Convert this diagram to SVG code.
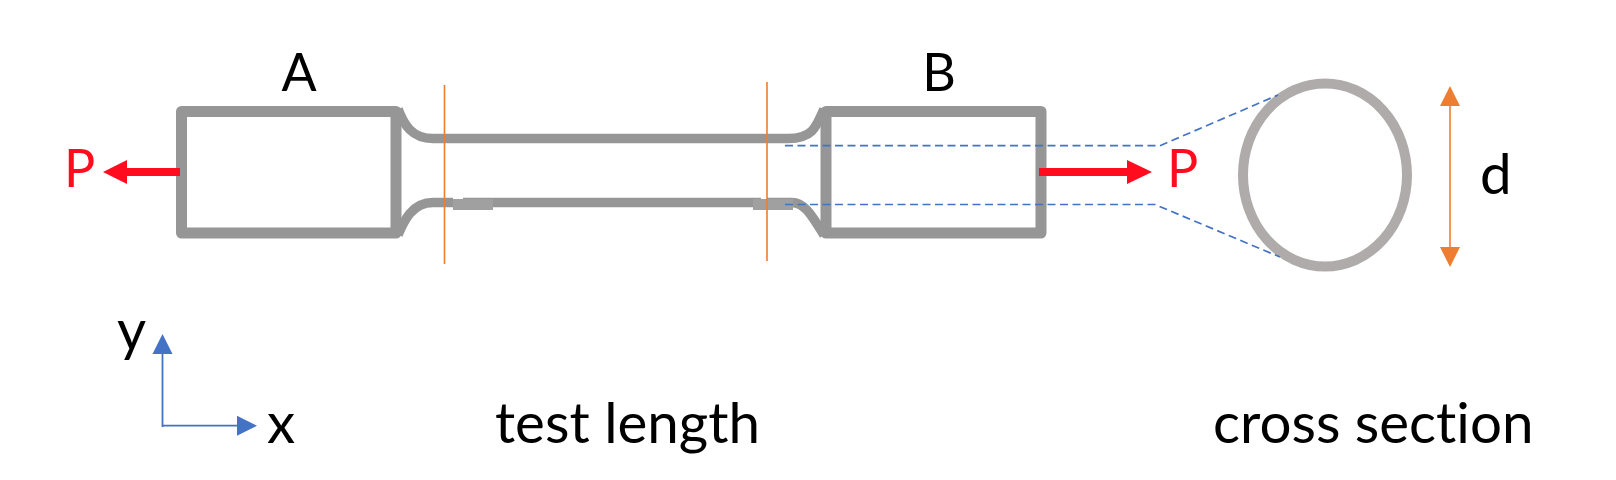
<svg xmlns="http://www.w3.org/2000/svg" width="1616" height="480" viewBox="0 0 1616 480">
<style>
text{font-family:"Lato","Carlito","Liberation Sans",sans-serif;font-size:52px;fill:#000;font-variant-ligatures:none}
.big{font-size:56.500px}
.red{fill:#FF0D1E}
.body{fill:none;stroke:#969696;stroke-width:11;stroke-linejoin:round;stroke-linecap:round}
.neck{fill:none;stroke:#969696;stroke-width:9.500}
.dash{fill:none;stroke:#4472C4;stroke-width:1.700;stroke-dasharray:8 4.500}
.or{stroke:#ED7D31;stroke-width:1.600;fill:none}
.bl{stroke:#4472C4;stroke-width:1.800;fill:none}
</style>
<rect width="1616" height="480" fill="#fff"/>
<g id="specimen">
<path class="body" d="M181.500 111.500H396V233H181.500Z"/>
<path class="body" d="M826 111.500H1041V233H826Z"/>
<path class="neck" d="M398 109C404 125 412 138.500 433 138.500H788C812 138.500 816 128 824 109"/>
<path class="neck" d="M398 235C404 221 412 202.500 433 202.500H792C806 202.500 814 220 824 235"/>
<rect x="453" y="199" width="40" height="11" fill="#A0A0A0"/>
<rect x="753" y="199" width="40" height="11" fill="#A0A0A0"/>
<rect x="453" y="196" width="10" height="3" fill="#fff"/>
<rect x="761" y="196" width="6" height="3" fill="#fff"/>
</g>
<g id="section"><ellipse cx="1325" cy="175" rx="82" ry="91.500" fill="none" stroke="#AFABAB" stroke-width="10"/></g>
<g id="connectors">
<path class="or" d="M444.500 85V264M767 82V261"/>
<path class="dash" d="M785 145.700H1160L1278 95"/>
<path class="dash" d="M785 204.500H1155L1280 257"/>
<path d="M180 172H125" stroke="#FF0D1E" stroke-width="8"/><path class="red" d="M103 172L127 160V184Z"/>
<path d="M1039 172H1130" stroke="#FF0D1E" stroke-width="8"/><path class="red" d="M1152 172L1127 160V184Z"/>
<path class="or" d="M1450 104V250"/><path d="M1450 86L1460 106H1440Z M1450 267L1460 247H1440Z" fill="#ED7D31"/>
<path class="bl" d="M162.500 427V352M162 425.700H240"/><path d="M162.500 334L172.500 354H152.500Z M257 425.700L237 415.700V435.700Z" fill="#4472C4"/>
</g>
<g id="labels">
<text x="299" y="91" text-anchor="middle">A</text>
<text x="939" y="91" text-anchor="middle">B</text>
<text class="red" x="64" y="187">P</text>
<text class="red" x="1167" y="187">P</text>
<text class="big" x="1480" y="194">d</text>
<text class="big" x="117" y="350">y</text>
<text class="big" x="267" y="443">x</text>
<text class="big" x="495" y="443">test length</text>
<text class="big" x="1213" y="443">cross section</text>
</g>
</svg>
